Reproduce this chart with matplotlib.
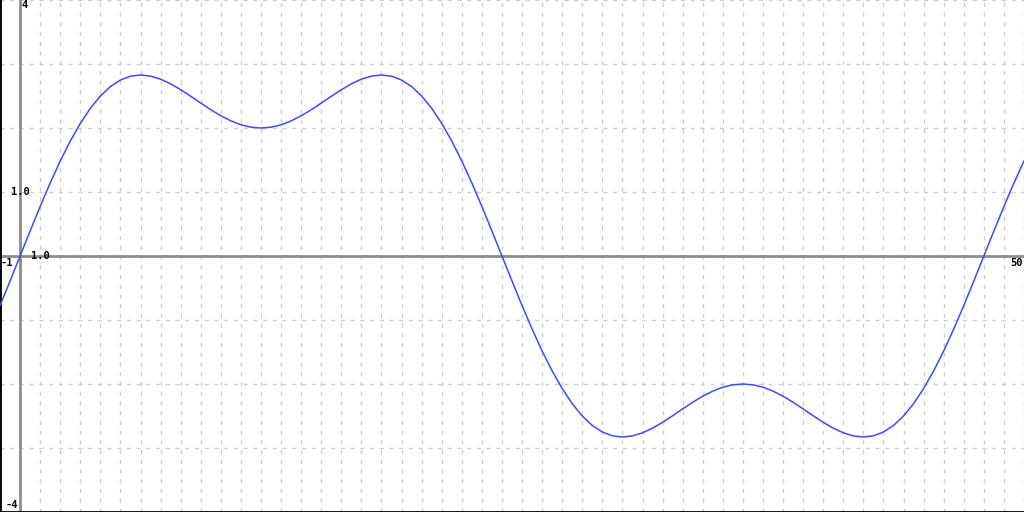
import numpy as np
import matplotlib
matplotlib.use("Agg")
import matplotlib.pyplot as plt

x_min, x_max = -1, 50
y_min, y_max = -4, 4
x_step = 0.5

y_values = [
    -0.774, -0.391,
    0.0, 0.391, 0.774, 1.141, 1.484, 1.796, 2.072, 2.308, 2.5, 2.648, 2.750, 2.810,
    2.828, 2.811, 2.763, 2.690, 2.598, 2.496, 2.389, 2.285, 2.191, 2.111, 2.050, 2.013,
    2.0,
    2.013, 2.050, 2.111, 2.191, 2.285, 2.389, 2.496, 2.598, 2.690, 2.763, 2.811, 2.828,
    2.810, 2.750, 2.648, 2.5, 2.308, 2.072, 1.796, 1.484, 1.141, 0.774, 0.391,
    0.0,
    -0.391, -0.774, -1.141, -1.484, -1.796, -2.072, -2.308, -2.5, -2.648, -2.750, -2.810, -2.828,
    -2.811, -2.763, -2.690, -2.598, -2.496, -2.389, -2.285, -2.191, -2.111, -2.050, -2.013,
    -2.0,
    -2.013, -2.050, -2.111, -2.191, -2.285, -2.389, -2.496, -2.598, -2.690, -2.763, -2.811, -2.828,
    -2.810, -2.750, -2.648, -2.5, -2.308, -2.072, -1.796, -1.484, -1.141, -0.774, -0.391,
    0.0,
    0.391, 0.774, 1.141, 1.484,
]
x_values = np.arange(x_min, x_max + x_step / 2, x_step)

fig = plt.figure(figsize=(10.24, 5.12), dpi=100)
ax = fig.add_axes([0, 0, 1, 1])
ax.set_xlim(x_min, x_max)
ax.set_ylim(y_min, y_max)

grid_kw = dict(color="#cfcfcf", lw=1, ls=(0, (3, 4)), zorder=1)
for gx in range(x_min, x_max + 1):
    if gx != 0:
        ax.axvline(gx, **grid_kw)
for gy in range(y_min, y_max + 1):
    if gy != 0:
        ax.axhline(gy, **grid_kw)

ax.axhline(0, color="#8c8c8c", lw=2, zorder=2)
ax.axvline(0, color="#8c8c8c", lw=2, zorder=2)

ax.plot(x_values, y_values, color="#3a4cff", lw=1.1, zorder=3)

for s in ["top", "right"]:
    ax.spines[s].set_visible(False)
for s in ["left", "bottom"]:
    ax.spines[s].set_color("black")
    ax.spines[s].set_linewidth(2)
ax.set_xticks([])
ax.set_yticks([])

tkw = dict(fontsize=7.5, family="DejaVu Sans Mono", fontweight="bold", color="black", zorder=5)
ax.annotate("4", (0, y_max), xytext=(1, 0), textcoords="offset pixels", ha="left", va="top", **tkw)
ax.annotate("-4", (0, y_min), xytext=(-2, 2), textcoords="offset pixels", ha="right", va="bottom", **tkw)
ax.annotate("1.0", (0, 1), ha="center", va="center", **tkw)
ax.annotate("1.0", (1, 0), ha="center", va="center", **tkw)
ax.annotate("-1", (x_min, 0), xytext=(1, -2), textcoords="offset pixels", ha="left", va="top", **tkw)
ax.annotate("50", (x_max, 0), xytext=(-1, -2), textcoords="offset pixels", ha="right", va="top", **tkw)

fig.savefig("out.png", dpi=100)
